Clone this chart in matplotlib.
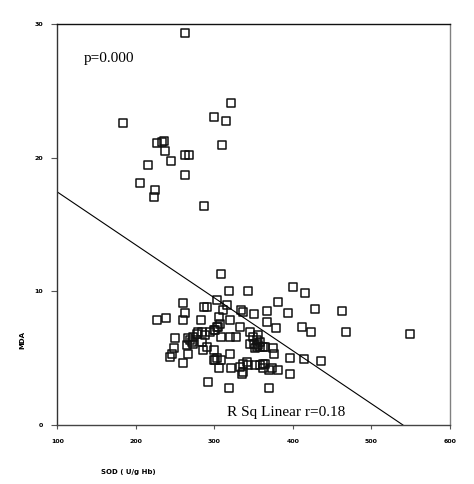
import numpy as np
import matplotlib
matplotlib.use("Agg")
import matplotlib.pyplot as plt
from matplotlib.markers import MarkerStyle

# SOD (U/g Hb) vs MDA
sod = [262, 321, 299, 315, 184, 310, 227, 233, 236, 237, 262, 268, 215, 245,
       263, 205, 224, 223, 287,
       400, 416, 381, 367, 394, 428, 462, 367, 379, 412, 423, 468, 549, 375,
       376, 396, 414.5, 436, 396, 370,
       308, 319, 343, 303, 316, 260, 287, 291, 334, 350, 227, 239, 263, 260,
       283, 311, 306, 320, 307, 303, 301, 333, 250, 269, 273, 277.5, 284, 288,
       294, 299, 309, 320, 328, 345, 349, 354, 356, 352, 358, 364, 248, 246,
       243, 267, 260, 286, 290, 301, 308, 320, 306, 321, 333, 337, 341, 335,
       352, 358, 364, 369, 373, 362, 292, 318,
       267, 271, 279, 305, 265, 273, 284, 299, 303, 299, 337, 356, 350, 358,
       362, 345, 354, 343, 362, 381, 337]
mda = [29.4, 24.1, 23.1, 22.8, 22.6, 21.0, 21.1, 21.2, 21.3, 20.5, 20.2, 20.25,
       19.5, 19.8, 18.75, 18.1, 17.6, 17.1, 16.4,
       10.35, 9.85, 9.2, 8.55, 8.4, 8.7, 8.55, 7.7, 7.3, 7.35, 7.0, 6.95, 6.85,
       5.8, 5.3, 5.0, 4.95, 4.8, 3.85, 2.8,
       11.3, 10.0, 10.0, 9.4, 9.0, 9.15, 8.85, 8.85, 8.65, 8.35, 7.9, 8.0, 8.4,
       7.85, 7.9, 8.6, 8.1, 7.85, 7.6, 7.35, 7.1, 7.35, 6.55, 6.35, 6.6, 6.85,
       7.0, 6.75, 7.0, 7.1, 6.6, 6.6, 6.6, 7.0, 6.6, 6.35, 6.0, 5.75, 5.85,
       5.85, 5.8, 5.35, 5.1, 5.3, 4.65, 5.65, 5.85, 4.9, 4.9, 5.3, 4.25, 4.3,
       4.35, 4.6, 4.75, 3.85, 4.5, 4.5, 4.55, 4.1, 4.25, 4.25, 3.25, 2.75,
       6.5, 6.25, 7.0, 7.35, 6.0, 6.1, 6.25, 5.6, 5.0, 4.85, 8.5, 6.75, 6.1,
       6.25, 5.85, 6.1, 5.85, 4.5, 4.6, 4.1, 4.0]

# fitted line as shown on the chart
fit_intercept = 21.42
fit_slope = -0.03966
fit_range = [100, 540]

x_ticks = [100, 200, 300, 400, 500, 600]
y_ticks = [0, 10, 20, 30]

fig = plt.figure(figsize=(4.74, 4.84), dpi=100)
ax = fig.add_axes([0.1209, 0.1219, 0.8285, 0.8275])

sq = MarkerStyle('s', joinstyle='round')
ax.plot(sod, mda, linestyle='none', marker=sq, markersize=5.4,
        markerfacecolor='none', markeredgecolor='#111111', markeredgewidth=1.1)

fx = np.array(fit_range)
ax.plot(fx, fit_intercept + fit_slope * fx, color='black', linewidth=0.8)

ax.set_xlim(100, 600)
ax.set_ylim(0, 30)
ax.set_xticks(x_ticks)
ax.set_yticks(y_ticks)
ax.set_xticklabels([str(v) for v in x_ticks], fontsize=4.5, fontweight='bold')
ax.set_yticklabels([str(v) for v in y_ticks], fontsize=4.5, fontweight='bold')
ax.tick_params(axis='x', direction='out', length=3, width=0.8, color='#555555', pad=7)
ax.tick_params(axis='y', direction='out', length=4, width=0.8, color='#555555', pad=6)

ax.spines['top'].set_color('#111111')
ax.spines['left'].set_color('#333333')
ax.spines['bottom'].set_color('#444444')
ax.spines['right'].set_color('#808080')
for s in ax.spines.values():
    s.set_linewidth(1.0)

ax.set_xlabel('SOD ( U/g Hb)', fontsize=5, fontweight='bold')
ax.xaxis.set_label_coords(0.181, -0.11)
ax.set_ylabel('MDA', fontsize=5, fontweight='bold')
ax.yaxis.set_label_coords(-0.082, 0.212)

ax.text(134, 27.45, 'p=0.000', family='Liberation Serif', fontsize=11, va='center')
ax.text(316, 0.97, 'R Sq Linear r=0.18', family='Liberation Serif', fontsize=11,
        va='center')

fig.savefig('out.png', dpi=100)
